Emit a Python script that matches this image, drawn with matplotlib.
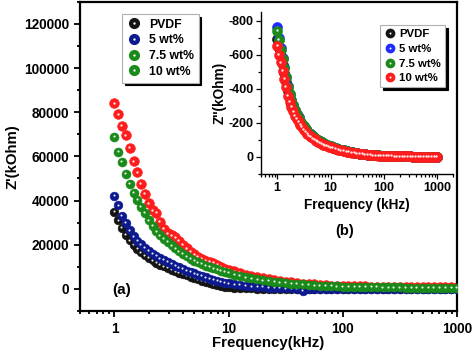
import matplotlib
matplotlib.use("Agg")
import matplotlib.pyplot as plt
from matplotlib.lines import Line2D
from matplotlib.transforms import offset_copy

plt.rcParams['font.family'] = ['Liberation Sans', 'DejaVu Sans']
plt.rcParams['font.weight'] = 'bold'
plt.rcParams['axes.labelweight'] = 'bold'
plt.rcParams['axes.unicode_minus'] = False

# frequency grid (kHz)
freq = [1.000, 1.080, 1.166, 1.259, 1.359, 1.468, 1.585, 1.711, 1.848, 1.995,
        2.154, 2.326, 2.512, 2.712, 2.929, 3.162, 3.415, 3.687, 3.981, 4.299,
        4.642, 5.012, 5.412, 5.843, 6.310, 6.813, 7.356, 7.943, 8.577, 9.261,
        10.0, 11.2, 12.6, 14.1, 15.8, 17.8, 20.0, 22.4, 25.1, 28.2,
        31.6, 35.5, 39.8, 44.7, 50.1, 56.2, 63.1, 70.8, 79.4, 89.1,
        100, 112, 126, 141, 158, 178, 200, 224, 251, 282,
        316, 355, 398, 447, 501, 562, 631, 708, 794, 891, 1000]

labels = ["PVDF", "5 wt%", "7.5 wt%", "10 wt%"]

# Z' (kOhm), panel (a)
zr_pvdf = [35000, 31000, 27500, 24500, 22000, 19800, 18000, 16500, 15200, 14000,
           12900, 11900, 11000, 10200, 9400, 8700, 8000, 7300, 6700, 6100,
           5500, 4900, 4300, 3700, 3100, 2600, 2100, 1700, 1300, 1000,
           800, 600, 450, 300, 200, 100, 50, 0, 0, 0,
           0, 0, 0, 0, 0, 0, 0, 0, 0, 0,
           0, 0, 0, 0, 0, 0, 0, 0, 0, 0,
           0, 0, 0, 0, 0, 0, 0, 0, 0, 0, 0]
zr_5 = [42000, 37800, 33200, 29800, 26500, 23800, 21800, 20200, 18600, 17200,
        16000, 14900, 13900, 13000, 12100, 11300, 10500, 9700, 9000, 8300,
        7600, 7000, 6400, 5800, 5200, 4700, 4200, 3700, 3200, 2800,
        2500, 2100, 1800, 1500, 1200, 1000, 800, 600, 500, 400,
        300, 200, 0, -900, 100, 100, 50, 0, 0, 0,
        0, 0, 0, 0, 0, 0, 0, 0, 0, 0,
        0, 0, 0, 0, 0, 0, 0, 0, 0, 0, 0]
zr_75 = [69000, 62000, 57500, 52000, 47500, 43500, 40200, 37200, 34300, 31000,
         28400, 26100, 24300, 22700, 21200, 19700, 18300, 17000, 15800, 14800,
         13700, 12800, 12000, 11200, 10500, 9900, 9300, 8800, 8300, 7700,
         7200, 6500, 5900, 5300, 4800, 4300, 3900, 3500, 3200, 2900,
         2600, 2400, 2200, 2000, 1800, 1650, 1500, 1350, 1250, 1150,
         1050, 1000, 950, 900, 860, 820, 780, 750, 720, 690,
         660, 630, 600, 580, 560, 540, 520, 500, 480, 460, 440]
zr_10 = [84000, 79000, 73700, 69500, 63800, 57800, 52800, 47700, 43000, 38800,
         35500, 34500, 30500, 27300, 25200, 24300, 23300, 21800, 20000, 18300,
         16800, 15700, 14600, 13600, 12700, 12200, 11700, 11000, 10000, 9100,
         8600, 7900, 7200, 6500, 5900, 5300, 4800, 4300, 3900, 3500,
         3200, 2900, 2600, 2400, 2200, 2000, 1800, 1650, 1500, 1400,
         1300, 1250, 1200, 1150, 1100, 1050, 1000, 980, 960, 940,
         920, 900, 880, 860, 840, 820, 800, 780, 760, 740, 720]

# Z'' (kOhm), panel (b)
zi_pvdf = [-690, -640, -590, -540, -490, -440, -385, -345, -313, -284,
           -258, -237, -218, -200, -184, -170, -156, -144, -133, -124,
           -116, -108, -101, -94, -88, -82, -77, -72, -68, -63,
           -59, -54, -49, -45, -41, -37, -33, -30, -27, -24,
           -22, -20, -18, -16, -14, -12, -11, -10, -9, -8,
           -7, -6, -5, -5, -4, -4, -4, -3, -3, -3,
           -3, -2, -2, -2, -2, -2, -2, -1, -1, -1, -1]
zi_5 = [-760, -700, -640, -582, -525, -470, -414, -371, -335, -304,
        -276, -253, -232, -213, -196, -180, -166, -153, -142, -132,
        -123, -114, -106, -99, -92, -86, -80, -75, -71, -66,
        -62, -56, -51, -46, -42, -38, -34, -31, -28, -25,
        -22, -20, -18, -16, -14, -12, -11, -10, -9, -8,
        -7, -6, -5, -5, -4, -4, -4, -3, -3, -3,
        -3, -2, -2, -2, -2, -2, -2, -1, -1, -1, -1]
zi_75 = [-740, -685, -630, -575, -520, -466, -410, -368, -333, -302,
         -274, -251, -231, -212, -195, -179, -165, -152, -141, -131,
         -122, -114, -106, -99, -92, -86, -80, -75, -71, -66,
         -62, -56, -51, -46, -42, -38, -34, -31, -28, -25,
         -22, -20, -18, -16, -14, -12, -11, -10, -9, -8,
         -7, -6, -5, -5, -4, -4, -4, -3, -3, -3,
         -3, -2, -2, -2, -2, -2, -2, -1, -1, -1, -1]
zi_10 = [-650, -600, -555, -505, -460, -412, -360, -323, -295, -268,
         -243, -224, -206, -190, -175, -161, -148, -137, -127, -118,
         -110, -103, -96, -90, -84, -78, -73, -69, -65, -61,
         -57, -52, -47, -43, -39, -35, -32, -29, -26, -23,
         -21, -19, -17, -15, -13, -12, -10, -9, -8, -7,
         -6, -6, -5, -5, -4, -4, -4, -3, -3, -3,
         -3, -2, -2, -2, -2, -2, -2, -1, -1, -1, -1]

c_black = "#141414"
c_navy = "#0d1a8f"
c_blue = "#1f2bff"
c_green = "#1a8a1a"
c_red = "#ff1c1c"

fig = plt.figure(figsize=(4.74, 3.53), dpi=100)


def spheres(ax, x, y, color, ms, z):
    ax.plot(x, y, 'o', ms=ms, mfc=color, mec=color, mew=0.4, ls='none', zorder=z)
    hl = offset_copy(ax.transData, fig=fig, x=-0.5, y=0.5, units='points')
    ax.plot(x, y, 'o', ms=ms * 0.24, mfc='white', mec='none', alpha=0.9, ls='none',
            zorder=z + 0.5, transform=hl)


def sphere_handle(color, ms):
    return (Line2D([], [], marker='o', ms=ms, mfc=color, mec=color, ls='none'),
            Line2D([], [], marker='o', ms=ms * 0.24, mfc='white', mec='none', ls='none'))


ax = fig.add_axes([0.169, 0.119, 0.795, 0.876])

spheres(ax, freq, zr_10, c_red, 7.0, 2)
spheres(ax, freq, zr_pvdf, c_black, 6.3, 4)
spheres(ax, freq, zr_5, c_navy, 6.3, 6)
spheres(ax, freq, zr_75, c_green, 6.5, 8)

ax.set_xscale('log')
ax.set_xlim(0.5, 1000)
ax.set_ylim(-10000, 130000)
ax.set_xticks([1, 10, 100, 1000], ['1', '10', '100', '1000'])
ax.set_yticks(range(0, 120001, 20000))
ax.set_yticks(range(-10000, 130001, 10000), minor=True)
ax.tick_params(which='both', direction='out', width=1.3, labelsize=9.8)
ax.tick_params(which='major', length=4.5)
ax.tick_params(which='minor', length=2.5)
for s in ax.spines.values():
    s.set_linewidth(1.6)
ax.set_xlabel("Frequency(kHz)", fontsize=10.8, labelpad=0)
ax.set_ylabel("Z'(kOhm)", fontsize=10.8, labelpad=3)
ax.text(0.111, 0.068, "(a)", transform=ax.transAxes, fontsize=11, ha='center', va='center')

cols_a = [c_black, c_navy, c_green, c_green]
leg = ax.legend([sphere_handle(c, 7) for c in cols_a], labels,
                loc='upper left', bbox_to_anchor=(0.111, 0.961), borderaxespad=0,
                fontsize=8.8, frameon=True, fancybox=False, edgecolor='#b0b0b0',
                shadow={'color': 'black', 'alpha': 1}, handletextpad=0.6,
                labelspacing=0.3, borderpad=0.4, handlelength=1.2)
leg.get_frame().set_linewidth(0.8)

# inset (b)
ins = fig.add_axes([0.551, 0.507, 0.405, 0.459])
ins.patch.set_alpha(0)
spheres(ins, freq, zi_pvdf, c_black, 7.2, 2)
spheres(ins, freq, zi_5, c_blue, 7.2, 4)
spheres(ins, freq, zi_75, c_green, 7.2, 6)
spheres(ins, freq, zi_10, c_red, 7.2, 8)
ins.set_xscale('log')
ins.set_xlim(0.5, 2000)
ins.set_ylim(100, -850)
ins.set_xticks([1, 10, 100, 1000], ['1', '10', '100', '1000'])
ins.set_yticks([-800, -600, -400, -200, 0])
ins.set_yticks(range(-800, 101, 100), minor=True)
ins.spines['top'].set_visible(False)
ins.spines['right'].set_visible(False)
for s in ['left', 'bottom']:
    ins.spines[s].set_linewidth(1.0)
ins.tick_params(which='both', direction='out', width=0.9, labelsize=9, pad=2)
ins.tick_params(which='major', length=3.5)
ins.tick_params(which='minor', length=2)
ins.set_xlabel("Frequency (kHz)", fontsize=9.8, labelpad=3)
ins.set_ylabel("Z''(kOhm)", fontsize=9.8, labelpad=1)
fig.text(0.728, 0.346, "(b)", fontsize=10.5, ha='center', va='center')

cols_b = [c_black, c_blue, c_green, c_red]
leg2 = ins.legend([sphere_handle(c, 6) for c in cols_b], labels,
                  loc='upper left', bbox_to_anchor=(0.62, 0.92), borderaxespad=0,
                  fontsize=8.2, frameon=True, fancybox=False, edgecolor='#b0b0b0',
                  shadow={'color': 'black', 'alpha': 1}, handletextpad=0.3,
                  labelspacing=0.42, borderpad=0.35, handlelength=1.0)
leg2.get_frame().set_linewidth(0.8)

fig.savefig("out.png", dpi=100)
